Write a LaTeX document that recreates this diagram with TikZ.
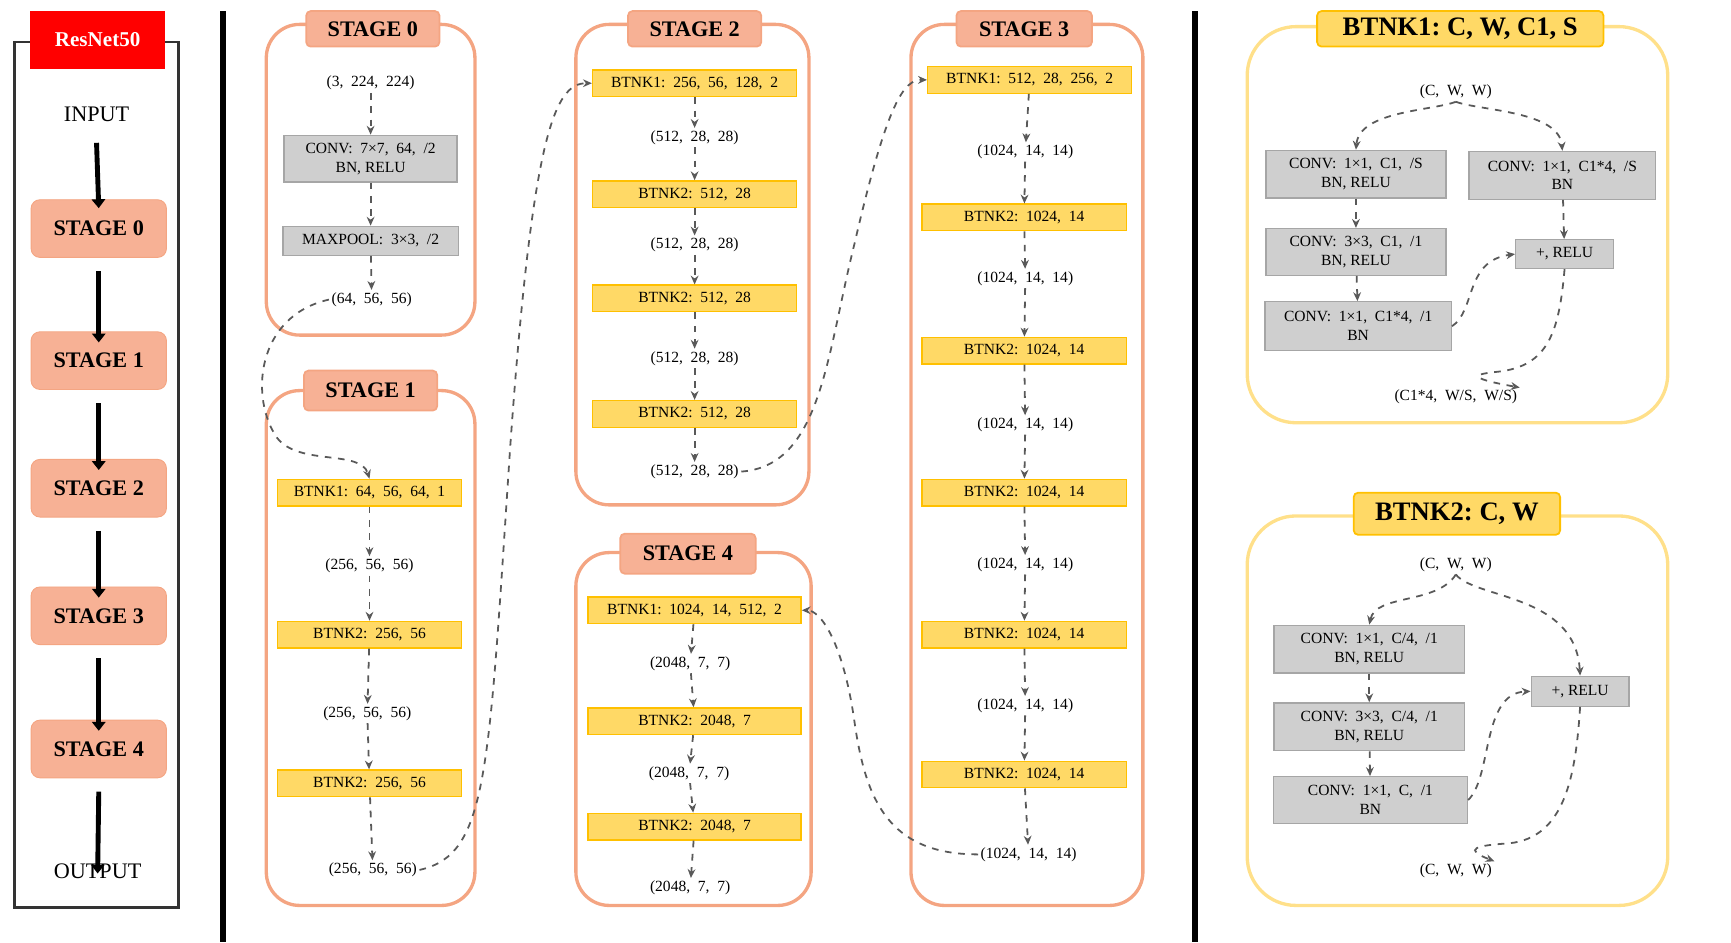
\documentclass[tikz,border=0pt]{standalone}
\usepackage{fontspec}
\setmainfont{Liberation Serif}
\usetikzlibrary{arrows.meta}
\definecolor{salf}{HTML}{F7B195}
\definecolor{sald}{HTML}{F4A582}
\definecolor{yelf}{HTML}{FFD966}
\definecolor{yeld}{HTML}{FFC000}
\definecolor{yelc}{HTML}{FFE08A}
\definecolor{grf}{HTML}{CFCFCF}
\definecolor{grd}{HTML}{A6A6A6}
\tikzset{
 sm/.style={font=\fontsize{7}{8.5}\selectfont, inner sep=1pt, align=center},
 ybox/.style={sm, draw=yeld, fill=yelf, line width=0.6pt, minimum height=12pt},
 gbox/.style={sm, draw=grd, fill=grf, line width=0.6pt},
 stitle/.style={draw=sald, fill=salf, line width=0.8pt, rounded corners=2pt, font=\fontsize{10}{12}\bfseries\selectfont, inner sep=0pt},
 ytitle/.style={draw=yeld, fill=yelf, line width=0.8pt, rounded corners=2pt, font=\fontsize{12}{14}\bfseries\selectfont, inner sep=0pt},
 cont/.style={draw=sald, line width=1.5pt, rounded corners=15pt},
 ycont/.style={draw=yelc, line width=1.5pt, rounded corners=22pt},
 da/.style={draw=black!65, dashed, line width=0.8pt, -{Stealth[length=4pt,width=3.5pt]}},
 bigarrow/.style={line width=2.2pt, -{Triangle[length=4pt,width=6pt]}},
 lstage/.style={draw=sald, fill=salf, rounded corners=4pt, font=\fontsize{10}{12}\bfseries\selectfont, minimum width=61pt, minimum height=26pt},
}
\begin{document}
\begin{tikzpicture}[x=0.5pt,y=-0.5pt]
\useasboundingbox (0,0) rectangle (1560,849);
% left panel
\draw[line width=1.2pt, black!80] (27,38) -- (13,38) -- (13,818) -- (161,818) -- (161,38) -- (149,38);
\node[fill=red, text=white, font=\fontsize{9.5}{11}\bfseries\selectfont, minimum width=61pt, minimum height=26pt] (rn) at (88,36) {ResNet50};
\node[font=\fontsize{10}{12}\selectfont] (inp) at (87,103) {INPUT};
\node[lstage] (l0) at (89,206) {STAGE 0};
\node[lstage] (l1) at (89,325) {STAGE 1};
\node[lstage] (l2) at (89,440) {STAGE 2};
\node[lstage] (l3) at (89,555) {STAGE 3};
\node[lstage] (l4) at (89,675) {STAGE 4};
\node[font=\fontsize{10}{12}\selectfont] (outp) at (88,785) {OUTPUT};
\draw[bigarrow] (inp.south) ++(0,12) -- ([yshift=-4pt]l0.north);
\foreach \a/\b in {l0/l1,l1/l2,l2/l3,l3/l4}{\draw[bigarrow] ([yshift=-6pt]\a.south) -- ([yshift=-5pt]\b.north);}
\draw[bigarrow] ([yshift=-6pt]l4.south) -- ([yshift=-8pt]outp.north);
% separators
\draw[line width=3pt] (201,10) -- (201,849);
\draw[line width=3pt] (1077,10) -- (1077,849);
% STAGE 0
\draw[cont] (240,22) rectangle (428,302);
\node[stitle, minimum width=60pt, minimum height=16pt] (t0) at (336,26) {STAGE 0};
\node[sm] (s0a) at (334,75) {(3,\ \ 224,\ \ 224)};
\node[gbox, minimum width=78pt, minimum height=21pt] (s0b) at (334,143) {CONV:\ \ 7×7,\ \ 64,\ \ /2\\BN,\ RELU};
\node[gbox, minimum width=79pt, minimum height=13pt] (s0c) at (334,217) {MAXPOOL:\ \ 3×3,\ \ /2};
\node[sm] (s0d) at (335,270) {(64,\ \ 56,\ \ 56)};
\draw[da] (s0a) -- (s0b); \draw[da] (s0b) -- (s0c); \draw[da] (s0c) -- (s0d);
% STAGE 1
\draw[cont] (240,352) rectangle (428,816);
\node[stitle, minimum width=60pt, minimum height=18pt] (t1) at (334,352) {STAGE 1};
\node[ybox, minimum width=83pt] (s1a) at (333,444) {BTNK1:\ \ 64,\ \ 56,\ \ 64,\ \ 1};
\node[sm] (s1b) at (333,510) {(256,\ \ 56,\ \ 56)};
\node[ybox, minimum width=83pt] (s1c) at (333,572) {BTNK2:\ \ 256,\ \ 56};
\node[sm] (s1d) at (331,643) {(256,\ \ 56,\ \ 56)};
\node[ybox, minimum width=83pt] (s1e) at (333,706) {BTNK2:\ \ 256,\ \ 56};
\node[sm] (s1f) at (336,784) {(256,\ \ 56,\ \ 56)};
\draw[da] (s1a) -- (s1b); \draw[da] (s1b) -- (s1c); \draw[da] (s1c) -- (s1d); \draw[da] (s1d) -- (s1e); \draw[da] (s1e) -- (s1f);
% STAGE 2
\draw[cont] (519,22) rectangle (729,455);
\node[stitle, minimum width=60pt, minimum height=16pt] (t2) at (626,26) {STAGE 2};
\node[ybox, minimum width=92pt] (s2a) at (626,75) {BTNK1:\ \ 256,\ \ 56,\ \ 128,\ \ 2};
\node[sm] (s2b) at (626,124) {(512,\ \ 28,\ \ 28)};
\node[ybox, minimum width=92pt] (s2c) at (626,175) {BTNK2:\ \ 512,\ \ 28};
\node[sm] (s2d) at (626,221) {(512,\ \ 28,\ \ 28)};
\node[ybox, minimum width=92pt] (s2e) at (626,269) {BTNK2:\ \ 512,\ \ 28};
\node[sm] (s2f) at (626,323) {(512,\ \ 28,\ \ 28)};
\node[ybox, minimum width=92pt] (s2g) at (626,373) {BTNK2:\ \ 512,\ \ 28};
\node[sm] (s2h) at (626,425) {(512,\ \ 28,\ \ 28)};
\draw[da] (s2a) -- (s2b); \draw[da] (s2b) -- (s2c); \draw[da] (s2c) -- (s2d); \draw[da] (s2d) -- (s2e); \draw[da] (s2e) -- (s2f); \draw[da] (s2f) -- (s2g); \draw[da] (s2g) -- (s2h);
% STAGE 4
\draw[cont] (519,498) rectangle (731,816);
\node[stitle, minimum width=61pt, minimum height=18pt] (t4) at (620,499) {STAGE 4};
\node[ybox, minimum width=96pt] (s4a) at (626,550) {BTNK1:\ \ 1024,\ \ 14,\ \ 512,\ \ 2};
\node[sm] (s4b) at (622,598) {(2048,\ \ 7,\ \ 7)};
\node[ybox, minimum width=96pt] (s4c) at (626,650) {BTNK2:\ \ 2048,\ \ 7};
\node[sm] (s4d) at (621,697) {(2048,\ \ 7,\ \ 7)};
\node[ybox, minimum width=96pt] (s4e) at (626,745) {BTNK2:\ \ 2048,\ \ 7};
\node[sm] (s4f) at (622,800) {(2048,\ \ 7,\ \ 7)};
\draw[da] (s4a) -- (s4b); \draw[da] (s4b) -- (s4c); \draw[da] (s4c) -- (s4d); \draw[da] (s4d) -- (s4e); \draw[da] (s4e) -- (s4f);
% STAGE 3
\draw[cont] (821,22) rectangle (1030,816);
\node[stitle, minimum width=61pt, minimum height=16pt] (t3) at (923,26) {STAGE 3};
\node[ybox, minimum width=92pt] (s3a) at (928,72) {BTNK1:\ \ 512,\ \ 28,\ \ 256,\ \ 2};
\foreach \n/\y in {b/137,d/251,f/383,h/509,j/636}{\node[sm] (s3\n) at (924,\y) {(1024,\ \ 14,\ \ 14)};}
\foreach \n/\y in {c/196,e/316,g/444,i/572,k/698}{\node[ybox, minimum width=92pt] (s3\n) at (923,\y) {BTNK2:\ \ 1024,\ \ 14};}
\node[sm] (s3l) at (927,770) {(1024,\ \ 14,\ \ 14)};
\foreach \a/\b in {a/b,b/c,c/d,d/e,e/f,f/g,g/h,h/i,i/j,j/k,k/l}{\draw[da] (s3\a) -- (s3\b);}
% long connectors
\draw[da] (s0d.west) .. controls (230,285) and (225,360) .. (250,395) .. controls (270,420) and (325,405) .. (s1a.north);
\draw[da] (s1f.east) .. controls (440,770) and (440,700) .. (460,400) .. controls (480,120) and (500,75) .. (s2a.west);
\draw[da] (s2h.east) .. controls (740,420) and (745,320) .. (770,220) .. controls (800,90) and (815,72) .. (s3a.west);
\draw[da] (s3l.west) .. controls (800,770) and (780,720) .. (770,650) .. controls (760,580) and (740,550) .. (s4a.east);
% BTNK1 panel
\draw[ycont] (1124,24) rectangle (1503,381);
\node[ytitle, minimum width=129pt, minimum height=16pt] (tb1) at (1316,26) {BTNK1:\ C,\ W,\ C1,\ S};
\node[sm] (b1in) at (1312,83) {(C,\ \ W,\ \ W)};
\node[gbox, minimum width=81pt, minimum height=21.5pt] (b1c1) at (1222,157) {CONV:\ \ 1×1,\ \ C1,\ \ /S\\BN,\ RELU};
\node[gbox, minimum width=84pt, minimum height=21.5pt] (b1sc) at (1408,158) {CONV:\ \ 1×1,\ \ C1*4,\ \ /S\\BN};
\node[gbox, minimum width=81pt, minimum height=21pt] (b1c2) at (1222,227) {CONV:\ \ 3×3,\ \ C1,\ \ /1\\BN,\ RELU};
\node[gbox, minimum width=84pt, minimum height=22pt] (b1c3) at (1224,294) {CONV:\ \ 1×1,\ \ C1*4,\ \ /1\\BN};
\node[gbox, minimum width=44pt, minimum height=13pt] (b1add) at (1410,229) {+,\ RELU};
\node[sm] (b1out) at (1312,358) {(C1*4,\ \ W/S,\ \ W/S)};
\draw[da] (b1in.south) .. controls (1290,100) and (1225,100) .. (b1c1.north);
\draw[da] (b1in.south) .. controls (1335,100) and (1405,100) .. (b1sc.north);
\draw[da] (b1c1) -- (b1c2); \draw[da] (b1c2) -- (b1c3); \draw[da] (b1sc) -- (b1add);
\draw[da] (b1c3.east) .. controls (1330,280) and (1320,235) .. (b1add.west);
\draw[da] (b1add.south) .. controls (1405,300) and (1395,330) .. (1350,335) .. controls (1330,337) and (1318,340) .. (b1out.north east);
% BTNK2 panel
\draw[ycont] (1124,465) rectangle (1503,816);
\node[ytitle, minimum width=93pt, minimum height=19pt] (tb2) at (1313,463) {BTNK2:\ C,\ W};
\node[sm] (b2in) at (1312,509) {(C,\ \ W,\ \ W)};
\node[gbox, minimum width=86pt, minimum height=21.5pt] (b2c1) at (1234,585) {CONV:\ \ 1×1,\ \ C/4,\ \ /1\\BN,\ RELU};
\node[gbox, minimum width=86pt, minimum height=21.5pt] (b2c2) at (1234,655) {CONV:\ \ 3×3,\ \ C/4,\ \ /1\\BN,\ RELU};
\node[gbox, minimum width=87.5pt, minimum height=21pt] (b2c3) at (1235,721) {CONV:\ \ 1×1,\ \ C,\ \ /1\\BN};
\node[gbox, minimum width=44pt, minimum height=13.5pt] (b2add) at (1424,623) {+,\ RELU};
\node[sm] (b2out) at (1312,785) {(C,\ \ W,\ \ W)};
\draw[da] (b2in.south) .. controls (1295,545) and (1240,535) .. (b2c1.north);
\draw[da] (b2in.south) .. controls (1330,540) and (1420,535) .. (b2add.north);
\draw[da] (b2c1) -- (b2c2); \draw[da] (b2c2) -- (b2c3);
\draw[da] (b2c3.east) .. controls (1345,700) and (1335,625) .. (b2add.west);
\draw[da] (b2add.south) .. controls (1420,700) and (1410,755) .. (1360,760) .. controls (1330,762) and (1318,765) .. (b2out.north east);
\end{tikzpicture}
\end{document}
